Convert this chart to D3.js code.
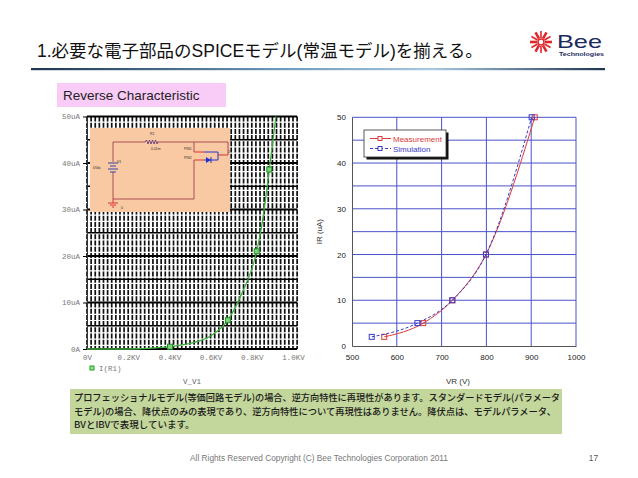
<!DOCTYPE html>
<html>
<head>
<meta charset="utf-8">
<script src="https://cdn.jsdelivr.net/npm/d3@7"></script>
<style>
  body { margin: 0; background: #fff; }
  svg { display: block; }
</style>
</head>
<body>
<svg id="slide"></svg>
<script>
// ---- data ----
const titleText = '1.必要な電子部品のSPICEモデル(常温モデル)を揃える。';
const noteLines = [
    'プロフェッショナルモデル(等価回路モデル)の場合、逆方向特性に再現性があります。スタンダードモデル(パラメータ',
    'モデル)の場合、降伏点のみの表現であり、逆方向特性について再現性はありません。降伏点は、モデルパラメータ、',
    'BVとIBVで表現しています。'
];

// left: PSpice simulation I(R1) vs V_V1 (kV, uA)
const simCurveV = [0, 0.15, 0.25, 0.3, 0.403, 0.5, 0.6, 0.684, 0.75, 0.824, 0.85, 0.885, 0.917];
const simCurveI = [0, 0, 0.05, 0.15, 0.5, 1.2, 2.8, 6.2, 11.8, 21, 27, 38.6, 50];
const simMarkV = [0.403, 0.684, 0.824, 0.885];
const simMarkI = [0.5, 6.2, 21, 38.6];
const leftXTicks = [0, 0.2, 0.4, 0.6, 0.8, 1.0];
const leftXLabels = ['0V', '0.2KV', '0.4KV', '0.6KV', '0.8KV', '1.0KV'];
const leftYTicks = [0, 10, 20, 30, 40, 50];
const leftYLabels = ['0A', '10uA', '20uA', '30uA', '40uA', '50uA'];

// right: measurement vs simulation, VR (V) vs IR (uA)
const measV = [572, 659, 724, 799, 908];
const measI = [2, 5, 10, 20, 50];
const simV = [544, 646, 724, 799, 901];
const simI = [2, 5, 10, 20, 50];
const rightXTicks = [500, 600, 700, 800, 900, 1000];
const rightYTicks = [0, 10, 20, 30, 40, 50];

const W = 638, H = 478;
const jp = '"Liberation Sans", Arial, "Noto Sans CJK JP", sans-serif';
const mono = '"Liberation Mono", "DejaVu Sans Mono", monospace';

const svg = d3.select('#slide').attr('width', W).attr('height', H);
const defs = svg.append('defs');

// ---- header ----
svg.append('text')
    .attr('x', 37).attr('y', 57)
    .attr('font-family', jp).attr('font-size', 17.5)
    .attr('fill', '#111')
    .text(titleText);

const grad = defs.append('linearGradient').attr('id', 'uline');
grad.append('stop').attr('offset', '0%').attr('stop-color', '#1d3550');
grad.append('stop').attr('offset', '45%').attr('stop-color', '#6f9cc0');
grad.append('stop').attr('offset', '70%').attr('stop-color', '#a9c8e0');
grad.append('stop').attr('offset', '100%').attr('stop-color', '#1d3550');
svg.append('rect').attr('x', 31).attr('y', 68).attr('width', 574).attr('height', 2.2)
    .attr('fill', 'url(#uline)');

// logo
const logo = svg.append('g').attr('transform', 'translate(541,42)');
d3.range(12).forEach(i => {
    const a = i * Math.PI / 6;
    logo.append('line')
        .attr('x1', Math.cos(a) * 4).attr('y1', Math.sin(a) * 4)
        .attr('x2', Math.cos(a) * 11).attr('y2', Math.sin(a) * 11)
        .attr('stroke', '#e0262b').attr('stroke-width', i % 2 ? 1.6 : 2.6);
});
logo.append('circle').attr('r', 3).attr('fill', '#fff').attr('stroke', '#e0262b').attr('stroke-width', 1.5);
svg.append('text').attr('x', 557).attr('y', 48)
    .attr('font-family', jp).attr('font-size', 19).attr('fill', '#1b2a5e')
    .attr('textLength', 45).attr('lengthAdjust', 'spacingAndGlyphs')
    .text('Bee');
svg.append('text').attr('x', 559).attr('y', 55.5)
    .attr('font-family', jp).attr('font-size', 5.5).attr('font-weight', 'bold').attr('fill', '#1b2a5e')
    .attr('textLength', 45).attr('lengthAdjust', 'spacingAndGlyphs')
    .text('Technologies');

// section label
svg.append('rect').attr('x', 57).attr('y', 83).attr('width', 169).attr('height', 24).attr('fill', '#f9ccf7');
svg.append('text').attr('x', 63).attr('y', 100)
    .attr('font-family', jp).attr('font-size', 13.5).attr('fill', '#222')
    .text('Reverse Characteristic');

// ---- left chart (PSpice probe style) ----
const lx = d3.scaleLinear().domain([0, 1]).range([87, 293]);
const ly = d3.scaleLinear().domain([0, 50]).range([349, 116.5]);
const left = svg.append('g');

// dense vertical grid
left.selectAll('.vg').data(d3.range(0, 1.021, 0.02))
    .join('line')
    .attr('x1', d => lx(d)).attr('x2', d => lx(d))
    .attr('y1', ly(50)).attr('y2', ly(0))
    .attr('stroke', '#111').attr('stroke-width', 1.7)
    .attr('stroke-dasharray', '5,1.2');
// horizontal grid at 5uA
left.selectAll('.hg').data(d3.range(0, 50.1, 5))
    .join('line')
    .attr('x1', lx(0)).attr('x2', lx(1.02))
    .attr('y1', d => ly(d)).attr('y2', d => ly(d))
    .attr('stroke', '#000').attr('stroke-width', d => d % 10 === 0 ? 2 : 1.6);

left.append('g')
    .attr('transform', `translate(${lx(0)},0)`)
    .call(d3.axisLeft(ly).tickValues(leftYTicks).tickFormat((d, i) => leftYLabels[i]).tickSize(4).tickSizeOuter(0))
    .call(g => g.select('.domain').attr('stroke', '#333'))
    .call(g => g.selectAll('text').attr('font-family', mono).attr('font-size', 7.5).attr('fill', '#777'));
left.append('g')
    .attr('transform', `translate(0,${ly(0)})`)
    .call(d3.axisBottom(lx).tickValues(leftXTicks).tickFormat((d, i) => leftXLabels[i]).tickSize(0).tickPadding(6))
    .call(g => g.select('.domain').remove())
    .call(g => g.selectAll('text').attr('font-family', mono).attr('font-size', 7.5).attr('fill', '#777'));

// schematic inset
const sch = left.append('g');
sch.append('rect').attr('x', 90).attr('y', 128).attr('width', 140).attr('height', 84).attr('fill', '#f8c9a2');
const wire = '#a0414a';
sch.append('path').attr('fill', 'none').attr('stroke', wire).attr('stroke-width', 0.9)
    .attr('d', 'M113,162 V142 H145 M157,142 H228 V155 M113,172 V199 H194 V160 M194,142 V152');
sch.append('path').attr('fill', 'none').attr('stroke', '#6b3a7a').attr('stroke-width', 0.9)
    .attr('d', 'M145,142 l1.5,-2 l1.5,4 l1.5,-4 l1.5,4 l1.5,-4 l1.5,4 l1.5,-4 l1.5,4 l1,-2');
sch.append('path').attr('fill', 'none').attr('stroke', '#3344aa').attr('stroke-width', 1)
    .attr('d', 'M108,163 h10 M110,166 h6 M108,169 h10 M110,172 h6');
sch.append('path').attr('fill', 'none').attr('stroke', '#d33').attr('stroke-width', 1)
    .attr('d', 'M194,152 h10 M194,160 h10 M218,155 h10 M113,199 v4');
sch.append('path').attr('fill', 'none').attr('stroke', '#2233cc').attr('stroke-width', 1)
    .attr('d', 'M204,152 h14 v8 M204,160 h14');
sch.append('path').attr('fill', '#2233cc').attr('d', 'M206,157 L206,163 L211,160 Z');
sch.append('line').attr('x1', 211).attr('x2', 211).attr('y1', 157).attr('y2', 163).attr('stroke', '#2233cc');
sch.append('path').attr('fill', 'none').attr('stroke', '#d33').attr('stroke-width', 1)
    .attr('d', 'M108,203 h10 M110,205 h6 M112,207 h2');
const tiny = [['R1', 150, 135], ['0.01m', 151, 150], ['V1', 117, 163], ['0Vdc', 93, 169],
              ['PIN1', 184, 150], ['PIN2', 184, 159], ['2', 228, 153], ['0', 121, 209]];
sch.selectAll('.lab').data(tiny).join('text')
    .attr('x', d => d[1]).attr('y', d => d[2])
    .attr('font-family', jp).attr('font-size', 3.5).attr('fill', '#333')
    .text(d => d[0]);

// green simulation curve
left.append('path')
    .datum(simCurveV.map((v, i) => [v, simCurveI[i]]))
    .attr('fill', 'none').attr('stroke', '#3fae3f').attr('stroke-width', 1.3)
    .attr('d', d3.line().x(d => lx(d[0])).y(d => ly(d[1])).curve(d3.curveMonotoneX));
left.selectAll('.sm').data(simMarkV.map((v, i) => [v, simMarkI[i]]))
    .join('rect')
    .attr('x', d => lx(d[0]) - 2.5).attr('y', d => ly(d[1]) - 2.5)
    .attr('width', 5).attr('height', 5)
    .attr('fill', '#7fd07f').attr('stroke', '#1f8f1f').attr('stroke-width', 1);

left.append('rect').attr('x', 90).attr('y', 366).attr('width', 4).attr('height', 4)
    .attr('fill', '#9be39b').attr('stroke', '#1f9f1f').attr('stroke-width', 1);
left.append('text').attr('x', 99).attr('y', 371)
    .attr('font-family', mono).attr('font-size', 7.5).attr('fill', '#777').text('I(R1)');
left.append('text').attr('x', 192).attr('y', 384).attr('text-anchor', 'middle')
    .attr('font-family', mono).attr('font-size', 7.5).attr('fill', '#666').text('V_V1');

// ---- right chart ----
const rx = d3.scaleLinear().domain([500, 1000]).range([352, 576]);
const ry = d3.scaleLinear().domain([0, 50]).range([346, 117.3]);
const right = svg.append('g');
const gridBlue = '#4b52c8';

right.selectAll('.rvg').data(d3.range(600, 1001, 100)).join('line')
    .attr('x1', d => rx(d)).attr('x2', d => rx(d)).attr('y1', ry(0)).attr('y2', ry(50))
    .attr('stroke', gridBlue).attr('stroke-width', 1);
right.selectAll('.rhg').data(d3.range(5, 50.1, 5)).join('line')
    .attr('x1', rx(500)).attr('x2', rx(1000)).attr('y1', d => ry(d)).attr('y2', d => ry(d))
    .attr('stroke', gridBlue).attr('stroke-width', 1);

right.append('g')
    .attr('transform', `translate(${rx(500)},0)`)
    .call(d3.axisLeft(ry).tickValues(rightYTicks).tickFormat(d3.format('d')).tickSize(0).tickPadding(6))
    .call(g => g.select('.domain').attr('stroke', '#555'))
    .call(g => g.selectAll('text').attr('font-family', jp).attr('font-size', 8).attr('fill', '#222'));
right.append('g')
    .attr('transform', `translate(0,${ry(0)})`)
    .call(d3.axisBottom(rx).tickValues(rightXTicks).tickFormat(d3.format('d')).tickSize(0).tickPadding(8))
    .call(g => g.select('.domain').attr('stroke', '#555'))
    .call(g => g.selectAll('text').attr('font-family', jp).attr('font-size', 8).attr('fill', '#222'));

right.append('text')
    .attr('transform', `translate(322,${(ry(0) + ry(50)) / 2}) rotate(-90)`)
    .attr('text-anchor', 'middle')
    .attr('font-family', jp).attr('font-size', 8).attr('fill', '#333').text('IR (uA)');
right.append('text').attr('x', 458).attr('y', 384).attr('text-anchor', 'middle')
    .attr('font-family', jp).attr('font-size', 8).attr('fill', '#333').text('VR (V)');

const rline = d3.line().x(d => rx(d[0])).y(d => ry(d[1])).curve(d3.curveMonotoneX);
const series = [
    { name: 'Measurement', v: measV, i: measI, color: '#dd3b3b', dash: null },
    { name: 'Simulation', v: simV, i: simI, color: '#3b3bc8', dash: '3,2' }
];
series.forEach(s => {
    const pts = s.v.map((v, k) => [v, s.i[k]]);
    right.append('path').datum(pts)
        .attr('fill', 'none').attr('stroke', s.color).attr('stroke-width', 1)
        .attr('stroke-dasharray', s.dash).attr('d', rline);
    right.selectAll(null).data(pts).join('rect')
        .attr('x', d => rx(d[0]) - 2.5).attr('y', d => ry(d[1]) - 2.5)
        .attr('width', 5).attr('height', 5)
        .attr('fill', 'none').attr('stroke', s.color).attr('stroke-width', 1);
});

// legend
const lg = right.append('g').attr('transform', 'translate(364,130)');
lg.append('rect').attr('x', 2.5).attr('y', 2.5).attr('width', 82).attr('height', 27).attr('fill', '#111');
lg.append('rect').attr('width', 82).attr('height', 27).attr('fill', '#fff').attr('stroke', '#333').attr('stroke-width', 0.8);
series.forEach((s, k) => {
    const y = 8.5 + k * 10;
    lg.append('line').attr('x1', 6).attr('x2', 27).attr('y1', y).attr('y2', y)
        .attr('stroke', s.color).attr('stroke-dasharray', s.dash);
    lg.append('rect').attr('x', 14).attr('y', y - 2).attr('width', 4).attr('height', 4)
        .attr('fill', '#fff').attr('stroke', s.color);
    lg.append('text').attr('x', 29).attr('y', y + 3)
        .attr('font-family', jp).attr('font-size', 8).attr('fill', s.color).text(s.name);
});

// ---- note box ----
svg.append('rect').attr('x', 70).attr('y', 389).attr('width', 492).attr('height', 45)
    .attr('fill', '#c3d69b');
svg.selectAll('.note').data(noteLines).join('text')
    .attr('x', 74).attr('y', (d, i) => 401 + i * 13.5)
    .attr('font-family', '"Noto Sans CJK JP", sans-serif').attr('font-size', 9.5)
    .attr('font-weight', 500)
    .attr('fill', '#1a1a1a')
    .attr('textLength', (d, i) => i < 2 ? [486, 482][i] : null)
    .attr('lengthAdjust', 'spacingAndGlyphs')
    .text(d => d);

// ---- footer ----
svg.append('text').attr('x', 319).attr('y', 461).attr('text-anchor', 'middle')
    .attr('font-family', jp).attr('font-size', 8.3).attr('fill', '#777')
    .text('All Rights Reserved Copyright (C) Bee Technologies Corporation 2011');
svg.append('text').attr('x', 598).attr('y', 461).attr('text-anchor', 'end')
    .attr('font-family', jp).attr('font-size', 8.3).attr('fill', '#555').text('17');
</script>
</body>
</html>
